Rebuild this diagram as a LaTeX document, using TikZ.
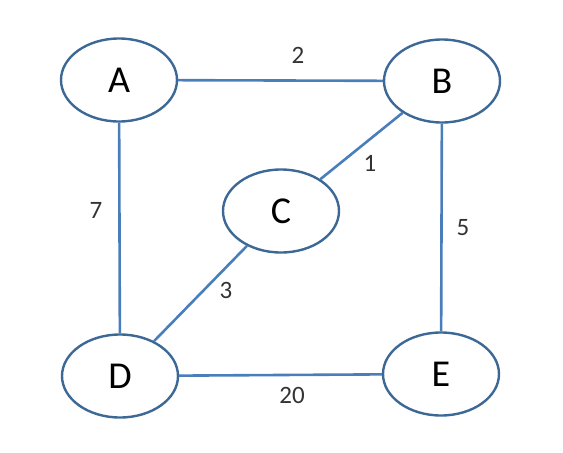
\documentclass[tikz,border=0pt]{standalone}
\usepackage{fontspec}
\setmainfont{Carlito}
\usetikzlibrary{shapes.geometric}
\definecolor{nodeline}{HTML}{3C6896}
\definecolor{edgeline}{HTML}{4A7EBB}
\definecolor{weighttext}{HTML}{333333}

\tikzset{
  vertex/.style={ellipse, draw=nodeline, line width=2.4pt, fill=white,
    minimum width=116pt, minimum height=83pt, inner sep=0pt,
    font=\fontsize{38}{38}\selectfont},
  edge/.style={draw=edgeline, line width=2.6pt},
  weight/.style={text=weighttext, font=\fontsize{25}{25}\selectfont}
}

\begin{document}
\begin{tikzpicture}[x=1pt, y=-1pt]
\useasboundingbox (0,0) rectangle (563,453);
%vertices
\node[vertex] (A) at (119, 80) {A};
\node[vertex] (B) at (442, 81) {B};
\node[vertex] (C) at (281, 211) {C};
\node[vertex] (D) at (120, 376) {D};
\node[vertex] (E) at (441, 374) {E};

%edges
\draw[edge] (A) -- (B);
\draw[edge] (A) -- (D);
\draw[edge] (B) -- (C);
\draw[edge] (B) -- (E);
\draw[edge] (C) -- (D);
\draw[edge] (D) -- (E);

%weights
\node[weight] (wAB) at (298, 55) {2};
\node[weight] (wBC) at (370, 163) {1};
\node[weight] (wAD) at (96, 210) {7};
\node[weight] (wBE) at (463, 228) {5};
\node[weight] (wCD) at (226, 290) {3};
\node[weight] (wDE) at (292, 395) {20};
\end{tikzpicture}
\end{document}
